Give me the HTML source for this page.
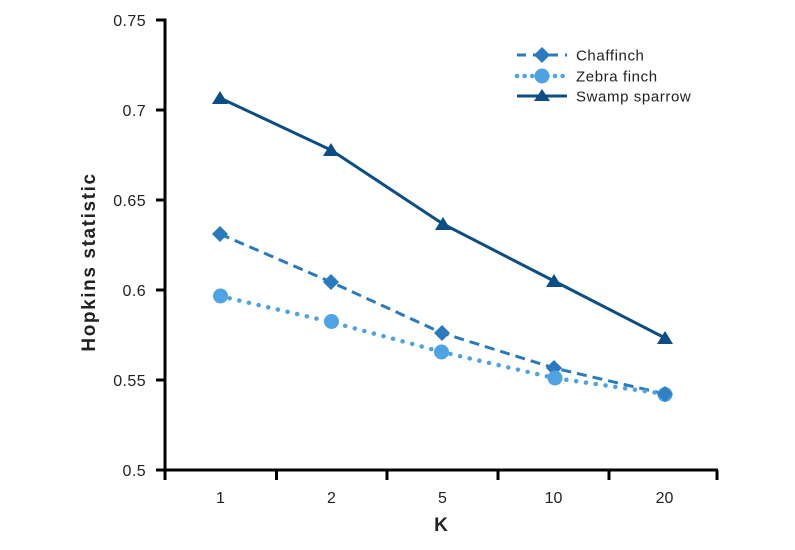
<!DOCTYPE html>
<html>
<head>
<meta charset="utf-8">
<style>
html,body{margin:0;padding:0;background:#fff;}
svg{display:block;}
text{font-family:"Liberation Sans",sans-serif;fill:#222;}
</style>
</head>
<body>
<svg width="795" height="550" viewBox="0 0 795 550" xmlns="http://www.w3.org/2000/svg">
<rect width="795" height="550" fill="#fff"/>
<!-- axes -->
<g stroke="#000" stroke-width="3" fill="none">
<line x1="165" y1="18.5" x2="165" y2="471"/>
<line x1="163.5" y1="470" x2="718" y2="470"/>
<line x1="156" y1="20" x2="165" y2="20"/>
<line x1="156" y1="110" x2="165" y2="110"/>
<line x1="156" y1="200" x2="165" y2="200"/>
<line x1="156" y1="290" x2="165" y2="290"/>
<line x1="156" y1="380" x2="165" y2="380"/>
<line x1="156" y1="470" x2="165" y2="470"/>
<line x1="165" y1="470" x2="165" y2="480"/>
<line x1="276.5" y1="470" x2="276.5" y2="480"/>
<line x1="387" y1="470" x2="387" y2="480"/>
<line x1="498" y1="470" x2="498" y2="480"/>
<line x1="609" y1="470" x2="609" y2="480"/>
<line x1="717" y1="470" x2="717" y2="480"/>
</g>
<!-- y tick labels -->
<g font-size="16" text-anchor="end" letter-spacing="0.4">
<text x="146" y="26">0.75</text>
<text x="146" y="116">0.7</text>
<text x="146" y="206">0.65</text>
<text x="146" y="296">0.6</text>
<text x="146" y="386">0.55</text>
<text x="146" y="476">0.5</text>
</g>
<!-- x tick labels -->
<g font-size="16" text-anchor="middle">
<text x="220.5" y="503">1</text>
<text x="331.5" y="503">2</text>
<text x="442.5" y="503">5</text>
<text x="553.5" y="503">10</text>
<text x="664.5" y="503">20</text>
</g>
<text x="441" y="531" font-size="19" font-weight="bold" text-anchor="middle" fill="#000">K</text>
<text transform="translate(95,262) rotate(-90)" font-size="19" font-weight="bold" text-anchor="middle" fill="#000" letter-spacing="1.6">Hopkins statistic</text>

<!-- Swamp sparrow -->
<polyline points="220,98 331,150 443,224 554,281 665,338" fill="none" stroke="#0b4d85" stroke-width="3"/>
<g fill="#0b4d85">
<polygon points="220,91 228,104 212,104"/>
<polygon points="331,143 339,156 323,156"/>
<polygon points="443,217 451,230 435,230"/>
<polygon points="554,274 562,287 546,287"/>
<polygon points="665,331 673,344 657,344"/>
</g>

<!-- Chaffinch -->
<polyline points="220,234 331,282 442,333 554,368 665,394" fill="none" stroke="#2a7abf" stroke-width="3" stroke-dasharray="10,6"/>
<g fill="#2a7abf">
<polygon points="220,226 228,234 220,242 212,234"/>
<polygon points="331,274 339,282 331,290 323,282"/>
<polygon points="442,325 450,333 442,341 434,333"/>
<polygon points="554,360 562,368 554,376 546,368"/>
</g>

<!-- Zebra finch -->
<polyline points="220,296 331,322 442,352 554,378 665,394" fill="none" stroke="#4fa3e3" stroke-width="4.5" stroke-linecap="round" stroke-dasharray="0.1,9.8"/>
<g fill="#4fa3e3">
<circle cx="220.5" cy="296" r="7.5"/>
<circle cx="331.5" cy="321.5" r="7.5"/>
<circle cx="441.5" cy="352" r="7.5"/>
<circle cx="555" cy="378" r="7.5"/>
<circle cx="665" cy="394.5" r="7.5"/>
</g>
<polygon points="665,386 673,394 665,402 657,394" fill="#2a7abf" opacity="0.85"/>

<!-- Legend -->
<line x1="517" y1="55" x2="567" y2="55" stroke="#2a7abf" stroke-width="3" stroke-dasharray="9,7"/>
<polygon points="542,47 550,55 542,63 534,55" fill="#2a7abf"/>
<text x="576" y="60.5" font-size="15" letter-spacing="0.6">Chaffinch</text>
<line x1="517" y1="76" x2="567" y2="76" stroke="#4fa3e3" stroke-width="4.5" stroke-linecap="round" stroke-dasharray="0.1,7.5"/>
<circle cx="542" cy="76" r="7.5" fill="#4fa3e3"/>
<text x="576" y="81.5" font-size="15" letter-spacing="0.6">Zebra finch</text>
<line x1="517" y1="96" x2="567" y2="96" stroke="#0b4d85" stroke-width="3"/>
<polygon points="542,89 550,101 534,101" fill="#0b4d85"/>
<text x="576" y="101.5" font-size="15" letter-spacing="0.6">Swamp sparrow</text>
</svg>
</body>
</html>
